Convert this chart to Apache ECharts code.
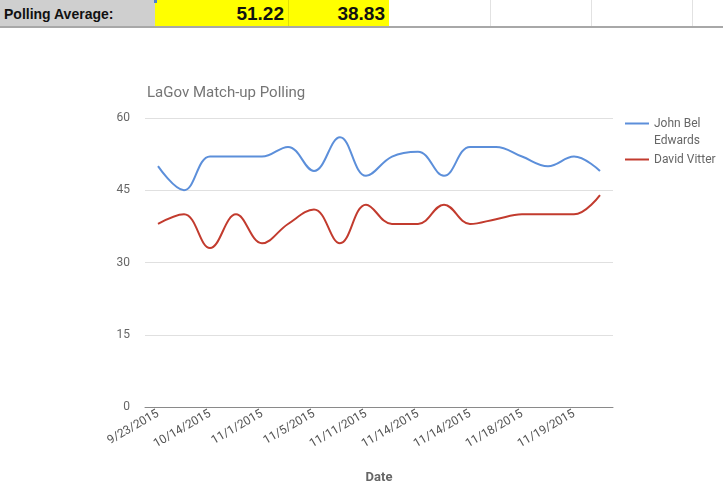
<!DOCTYPE html>
<html lang="en">
<head>
    <meta charset="UTF-8">
    <title>LaGov Match-up Polling</title>
    <script src="https://cdn.jsdelivr.net/npm/echarts@6/dist/echarts.min.js"></script>
    <style>
        html, body { margin: 0; padding: 0; background: #fff; }
        .sheet { position: absolute; left: 0; top: 0; width: 723px; height: 26px; border-bottom: 2px solid #a8a8a8; font-family: "Liberation Sans", Arial, sans-serif; font-weight: bold; color: #111; z-index: 2; }
        .cell { position: absolute; top: 0; height: 26px; line-height: 28px; box-sizing: border-box; }
        .line { position: absolute; top: 0; width: 1px; height: 26px; background: #e2e2e2; }
    </style>
</head>
<body>
<div class="sheet">
    <div class="cell" style="left:0;width:155px;background:#cfcfcf;padding-left:4px;font-size:14px;">Polling Average:</div>
    <div class="cell" style="left:155px;width:133px;background:#ffff00;text-align:right;padding-right:4px;font-size:19px;">51.22</div>
    <div class="cell" style="left:288px;width:101px;background:#ffff00;text-align:right;padding-right:4px;font-size:19px;border-left:1px solid #e0e000;">38.83</div>
    <div style="position:absolute;left:154px;top:0;width:3px;height:3px;background:#4a7fd4;"></div>
    <div class="line" style="left:490px"></div>
    <div class="line" style="left:591px"></div>
    <div class="line" style="left:692px"></div>
</div>
<div id="main" style="width:723px;height:483px;"></div>

<script type="text/javascript">
    // poll dates (every other one is hidden on the axis)
    var dates = ['9/23/2015', '10/5/2015', '10/14/2015', '10/26/2015', '11/1/2015', '11/3/2015',
        '11/5/2015', '11/9/2015', '11/11/2015', '11/12/2015', '11/14/2015', '11/14/2015',
        '11/14/2015', '11/16/2015', '11/18/2015', '11/18/2015', '11/19/2015', '11/20/2015'];
    var edwards = [50, 45, 52, 52, 52, 54, 49, 56, 48, 52, 53, 48, 54, 54, 52, 50, 52, 49];
    var vitter = [38, 40, 33, 40, 34, 38, 41, 34, 42, 38, 38, 42, 38, 39, 40, 40, 40, 44];
    var yTicks = [0, 15, 30, 45, 60];

    var myChart = echarts.init(document.getElementById('main'));

    var legendText = { color: '#666', fontSize: 12, fontFamily: 'Roboto', lineHeight: 17 };

    var option = {
        animation: false,
        title: {
            text: 'LaGov Match-up Polling',
            left: 142, top: 81,
            textStyle: { color: '#757575', fontSize: 15, fontWeight: 'normal', fontFamily: 'Roboto' }
        },
        legend: [{
            data: ['John Bel Edwards'],
            orient: 'vertical', left: 625, top: 98, padding: 0,
            itemWidth: 24, itemHeight: 2, icon: 'rect',
            formatter: function () { return '\nJohn Bel\nEdwards'; },
            textStyle: legendText
        }, {
            data: ['David Vitter'],
            orient: 'vertical', left: 625, top: 151, padding: 0,
            itemWidth: 24, itemHeight: 2, icon: 'rect',
            textStyle: legendText
        }],
        grid: { left: 145, right: 110, top: 118, bottom: 76, outerBoundsMode: 'none', containLabel: false },
        xAxis: {
            type: 'category',
            data: dates,
            boundaryGap: true,
            name: 'Date',
            nameLocation: 'middle',
            nameGap: 64,
            nameMoveOverlap: false,
            nameTextStyle: { color: '#666', fontSize: 13, fontWeight: 'bold', fontFamily: 'Roboto' },
            axisLine: { lineStyle: { color: '#8a8a8a', width: 1 } },
            axisTick: { show: false },
            axisLabel: { interval: 1, rotate: 30, margin: 6, color: '#555', fontSize: 12, fontFamily: 'Roboto' }
        },
        yAxis: {
            type: 'value',
            min: yTicks[0], max: yTicks[yTicks.length - 1], interval: 15,
            axisLine: { show: false },
            axisTick: { show: false },
            splitLine: { lineStyle: { color: '#e0e0e0' } },
            axisLabel: { margin: 15, color: '#666', fontSize: 12, fontFamily: 'Roboto' }
        },
        series: [{
            name: 'John Bel Edwards',
            type: 'line',
            smooth: 0.4,
            symbol: 'none',
            data: edwards,
            itemStyle: { color: '#5c8fda' },
            lineStyle: { color: '#5c8fda', width: 2 }
        }, {
            name: 'David Vitter',
            type: 'line',
            smooth: 0.4,
            symbol: 'none',
            data: vitter,
            itemStyle: { color: '#c23b2e' },
            lineStyle: { color: '#c23b2e', width: 2 }
        }]
    };

    myChart.setOption(option);
</script>
</body>
</html>
